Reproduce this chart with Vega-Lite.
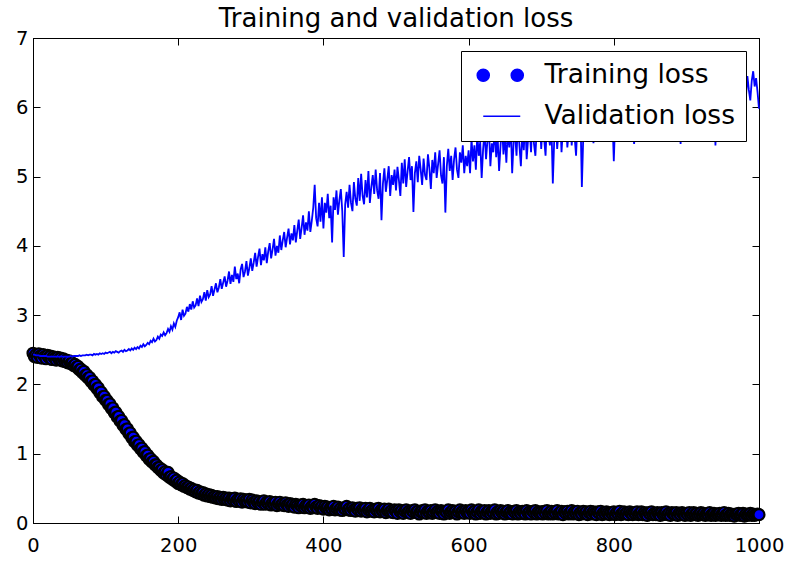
{
  "$schema": "https://vega.github.io/schema/vega-lite/v6.json",
  "width": 726,
  "height": 485,
  "autosize": {"type": "none"},
  "padding": {"left": 33, "top": 38, "right": 37, "bottom": 45},
  "background": "white",
  "title": {"text": "Training and validation loss", "fontSize": 26, "font": "DejaVu Sans", "fontWeight": "normal", "color": "#000000", "offset": -4, "anchor": "middle"},
  "config": {
    "view": {"stroke": "#000000", "strokeWidth": 1},
    "font": "DejaVu Sans",
    "axis": {"grid": false, "domainColor": "#000000", "domainWidth": 1, "tickColor": "#000000", "tickWidth": 1, "tickSize": -7, "labelFont": "DejaVu Sans", "labelFontSize": 19.5, "labelColor": "#000000", "labelFlush": false, "title": null}
  },
  "datasets": {
    "history": [
{"epoch":0,"training":2.45,"validation":2.43},{"epoch":2,"training":2.40,"validation":2.43},{"epoch":4,"training":2.43,"validation":2.42},{"epoch":6,"training":2.39,"validation":2.42},{"epoch":8,"training":2.44,"validation":2.42},
{"epoch":10,"training":2.41,"validation":2.41},{"epoch":12,"training":2.38,"validation":2.41},{"epoch":14,"training":2.43,"validation":2.41},{"epoch":16,"training":2.40,"validation":2.41},{"epoch":18,"training":2.37,"validation":2.41},
{"epoch":20,"training":2.42,"validation":2.40},{"epoch":22,"training":2.39,"validation":2.40},{"epoch":24,"training":2.41,"validation":2.40},{"epoch":26,"training":2.36,"validation":2.40},{"epoch":28,"training":2.40,"validation":2.40},
{"epoch":30,"training":2.38,"validation":2.40},{"epoch":32,"training":2.35,"validation":2.40},{"epoch":34,"training":2.39,"validation":2.40},{"epoch":36,"training":2.36,"validation":2.40},{"epoch":38,"training":2.38,"validation":2.40},
{"epoch":40,"training":2.34,"validation":2.40},{"epoch":42,"training":2.37,"validation":2.40},{"epoch":44,"training":2.33,"validation":2.40},{"epoch":46,"training":2.35,"validation":2.40},{"epoch":48,"training":2.31,"validation":2.40},
{"epoch":50,"training":2.34,"validation":2.40},{"epoch":52,"training":2.30,"validation":2.41},{"epoch":54,"training":2.31,"validation":2.40},{"epoch":56,"training":2.27,"validation":2.41},{"epoch":58,"training":2.29,"validation":2.41},
{"epoch":60,"training":2.25,"validation":2.41},{"epoch":62,"training":2.26,"validation":2.41},{"epoch":64,"training":2.21,"validation":2.42},{"epoch":66,"training":2.22,"validation":2.41},{"epoch":68,"training":2.17,"validation":2.42},
{"epoch":70,"training":2.19,"validation":2.42},{"epoch":72,"training":2.13,"validation":2.42},{"epoch":74,"training":2.14,"validation":2.43},{"epoch":76,"training":2.09,"validation":2.42},{"epoch":78,"training":2.10,"validation":2.43},
{"epoch":80,"training":2.04,"validation":2.43},{"epoch":82,"training":2.05,"validation":2.42},{"epoch":84,"training":1.99,"validation":2.44},{"epoch":86,"training":2.00,"validation":2.43},{"epoch":88,"training":1.94,"validation":2.44},
{"epoch":90,"training":1.95,"validation":2.43},{"epoch":92,"training":1.88,"validation":2.45},{"epoch":94,"training":1.89,"validation":2.44},{"epoch":96,"training":1.82,"validation":2.45},{"epoch":98,"training":1.83,"validation":2.44},
{"epoch":100,"training":1.77,"validation":2.46},{"epoch":102,"training":1.77,"validation":2.45},{"epoch":104,"training":1.71,"validation":2.46},{"epoch":106,"training":1.72,"validation":2.47},{"epoch":108,"training":1.65,"validation":2.45},
{"epoch":110,"training":1.66,"validation":2.47},{"epoch":112,"training":1.59,"validation":2.46},{"epoch":114,"training":1.60,"validation":2.48},{"epoch":116,"training":1.53,"validation":2.47},{"epoch":118,"training":1.54,"validation":2.46},
{"epoch":120,"training":1.47,"validation":2.48},{"epoch":122,"training":1.48,"validation":2.49},{"epoch":124,"training":1.41,"validation":2.47},{"epoch":126,"training":1.42,"validation":2.50},{"epoch":128,"training":1.35,"validation":2.48},
{"epoch":130,"training":1.36,"validation":2.49},{"epoch":132,"training":1.29,"validation":2.51},{"epoch":134,"training":1.30,"validation":2.49},{"epoch":136,"training":1.23,"validation":2.52},{"epoch":138,"training":1.24,"validation":2.50},
{"epoch":140,"training":1.17,"validation":2.53},{"epoch":142,"training":1.18,"validation":2.51},{"epoch":144,"training":1.12,"validation":2.54},{"epoch":146,"training":1.13,"validation":2.52},{"epoch":148,"training":1.07,"validation":2.56},
{"epoch":150,"training":1.08,"validation":2.54},{"epoch":152,"training":1.02,"validation":2.58},{"epoch":154,"training":1.03,"validation":2.55},{"epoch":156,"training":0.97,"validation":2.57},{"epoch":158,"training":0.98,"validation":2.60},
{"epoch":160,"training":0.92,"validation":2.58},{"epoch":162,"training":0.93,"validation":2.63},{"epoch":164,"training":0.88,"validation":2.61},{"epoch":166,"training":0.89,"validation":2.66},{"epoch":168,"training":0.84,"validation":2.62},
{"epoch":170,"training":0.84,"validation":2.64},{"epoch":172,"training":0.80,"validation":2.69},{"epoch":174,"training":0.80,"validation":2.66},{"epoch":176,"training":0.76,"validation":2.72},{"epoch":178,"training":0.77,"validation":2.70},
{"epoch":180,"training":0.72,"validation":2.75},{"epoch":182,"training":0.74,"validation":2.71},{"epoch":184,"training":0.69,"validation":2.74},{"epoch":186,"training":0.73,"validation":2.80},{"epoch":188,"training":0.66,"validation":2.76},
{"epoch":190,"training":0.67,"validation":2.84},{"epoch":192,"training":0.63,"validation":2.79},{"epoch":194,"training":0.65,"validation":2.88},{"epoch":196,"training":0.60,"validation":2.83},{"epoch":198,"training":0.62,"validation":2.92},
{"epoch":200,"training":0.57,"validation":2.97},{"epoch":202,"training":0.59,"validation":3.04},{"epoch":204,"training":0.55,"validation":2.93},{"epoch":206,"training":0.57,"validation":3.08},{"epoch":208,"training":0.53,"validation":2.99},
{"epoch":210,"training":0.54,"validation":3.02},{"epoch":212,"training":0.51,"validation":3.12},{"epoch":214,"training":0.52,"validation":3.05},{"epoch":216,"training":0.49,"validation":3.16},{"epoch":218,"training":0.50,"validation":3.08},
{"epoch":220,"training":0.47,"validation":3.20},{"epoch":222,"training":0.48,"validation":3.11},{"epoch":224,"training":0.45,"validation":3.14},{"epoch":226,"training":0.47,"validation":3.24},{"epoch":228,"training":0.43,"validation":3.13},
{"epoch":230,"training":0.45,"validation":3.28},{"epoch":232,"training":0.42,"validation":3.19},{"epoch":234,"training":0.44,"validation":3.23},{"epoch":236,"training":0.40,"validation":3.33},{"epoch":238,"training":0.42,"validation":3.21},
{"epoch":240,"training":0.39,"validation":3.36},{"epoch":242,"training":0.41,"validation":3.26},{"epoch":244,"training":0.38,"validation":3.30},{"epoch":246,"training":0.40,"validation":3.42},{"epoch":248,"training":0.37,"validation":3.28},
{"epoch":250,"training":0.38,"validation":3.37},{"epoch":252,"training":0.36,"validation":3.46},{"epoch":254,"training":0.38,"validation":3.33},{"epoch":256,"training":0.35,"validation":3.40},{"epoch":258,"training":0.37,"validation":3.52},
{"epoch":260,"training":0.34,"validation":3.38},{"epoch":262,"training":0.37,"validation":3.47},{"epoch":264,"training":0.34,"validation":3.56},{"epoch":266,"training":0.36,"validation":3.41},{"epoch":268,"training":0.33,"validation":3.50},
{"epoch":270,"training":0.36,"validation":3.63},{"epoch":272,"training":0.32,"validation":3.45},{"epoch":274,"training":0.35,"validation":3.58},{"epoch":276,"training":0.33,"validation":3.48},{"epoch":278,"training":0.36,"validation":3.70},
{"epoch":280,"training":0.31,"validation":3.52},{"epoch":282,"training":0.34,"validation":3.60},{"epoch":284,"training":0.32,"validation":3.46},{"epoch":286,"training":0.35,"validation":3.66},{"epoch":288,"training":0.30,"validation":3.74},
{"epoch":290,"training":0.34,"validation":3.55},{"epoch":292,"training":0.31,"validation":3.63},{"epoch":294,"training":0.33,"validation":3.78},{"epoch":296,"training":0.30,"validation":3.57},{"epoch":298,"training":0.34,"validation":3.68},
{"epoch":300,"training":0.29,"validation":3.82},{"epoch":302,"training":0.33,"validation":3.64},{"epoch":304,"training":0.30,"validation":3.76},{"epoch":306,"training":0.28,"validation":3.90},{"epoch":308,"training":0.32,"validation":3.70},
{"epoch":310,"training":0.29,"validation":3.84},{"epoch":312,"training":0.31,"validation":3.96},{"epoch":314,"training":0.27,"validation":3.72},{"epoch":316,"training":0.30,"validation":3.88},{"epoch":318,"training":0.32,"validation":3.79},
{"epoch":320,"training":0.27,"validation":3.98},{"epoch":322,"training":0.30,"validation":3.75},{"epoch":324,"training":0.28,"validation":3.92},{"epoch":326,"training":0.31,"validation":4.04},{"epoch":328,"training":0.26,"validation":3.82},
{"epoch":330,"training":0.29,"validation":3.95},{"epoch":332,"training":0.27,"validation":4.10},{"epoch":334,"training":0.30,"validation":3.86},{"epoch":336,"training":0.25,"validation":4.00},{"epoch":338,"training":0.28,"validation":3.90},
{"epoch":340,"training":0.30,"validation":4.15},{"epoch":342,"training":0.26,"validation":3.94},{"epoch":344,"training":0.28,"validation":4.08},{"epoch":346,"training":0.25,"validation":4.20},{"epoch":348,"training":0.29,"validation":3.98},
{"epoch":350,"training":0.26,"validation":4.12},{"epoch":352,"training":0.24,"validation":4.25},{"epoch":354,"training":0.28,"validation":4.02},{"epoch":356,"training":0.25,"validation":4.18},{"epoch":358,"training":0.27,"validation":4.08},
{"epoch":360,"training":0.23,"validation":4.30},{"epoch":362,"training":0.27,"validation":4.05},{"epoch":364,"training":0.25,"validation":4.22},{"epoch":366,"training":0.22,"validation":4.38},{"epoch":368,"training":0.26,"validation":4.10},
{"epoch":370,"training":0.24,"validation":4.26},{"epoch":372,"training":0.27,"validation":4.44},{"epoch":374,"training":0.22,"validation":4.16},{"epoch":376,"training":0.25,"validation":4.34},{"epoch":378,"training":0.23,"validation":4.22},
{"epoch":380,"training":0.26,"validation":4.50},{"epoch":382,"training":0.21,"validation":4.20},{"epoch":384,"training":0.24,"validation":4.36},{"epoch":386,"training":0.22,"validation":4.55},{"epoch":388,"training":0.27,"validation":4.88},
{"epoch":390,"training":0.23,"validation":4.40},{"epoch":392,"training":0.21,"validation":4.28},{"epoch":394,"training":0.25,"validation":4.62},{"epoch":396,"training":0.22,"validation":4.35},{"epoch":398,"training":0.24,"validation":4.70},
{"epoch":400,"training":0.20,"validation":4.25},{"epoch":402,"training":0.24,"validation":4.62},{"epoch":404,"training":0.21,"validation":4.48},{"epoch":406,"training":0.23,"validation":4.75},{"epoch":408,"training":0.19,"validation":4.40},
{"epoch":410,"training":0.22,"validation":4.58},{"epoch":412,"training":0.20,"validation":4.05},{"epoch":414,"training":0.24,"validation":4.70},{"epoch":416,"training":0.19,"validation":4.52},{"epoch":418,"training":0.21,"validation":4.80},
{"epoch":420,"training":0.23,"validation":4.45},{"epoch":422,"training":0.19,"validation":4.66},{"epoch":424,"training":0.21,"validation":4.82},{"epoch":426,"training":0.18,"validation":4.50},{"epoch":428,"training":0.22,"validation":3.84},
{"epoch":430,"training":0.20,"validation":4.60},{"epoch":432,"training":0.24,"validation":4.78},{"epoch":434,"training":0.19,"validation":4.55},{"epoch":436,"training":0.21,"validation":4.88},{"epoch":438,"training":0.18,"validation":4.62},
{"epoch":440,"training":0.22,"validation":4.50},{"epoch":442,"training":0.19,"validation":4.92},{"epoch":444,"training":0.17,"validation":4.68},{"epoch":446,"training":0.21,"validation":4.58},{"epoch":448,"training":0.19,"validation":4.98},
{"epoch":450,"training":0.22,"validation":4.65},{"epoch":452,"training":0.17,"validation":5.04},{"epoch":454,"training":0.20,"validation":4.72},{"epoch":456,"training":0.18,"validation":4.60},{"epoch":458,"training":0.21,"validation":4.95},
{"epoch":460,"training":0.16,"validation":4.70},{"epoch":462,"training":0.19,"validation":5.08},{"epoch":464,"training":0.21,"validation":4.62},{"epoch":466,"training":0.17,"validation":4.85},{"epoch":468,"training":0.19,"validation":5.02},
{"epoch":470,"training":0.16,"validation":4.75},{"epoch":472,"training":0.20,"validation":5.10},{"epoch":474,"training":0.18,"validation":4.80},{"epoch":476,"training":0.21,"validation":4.68},{"epoch":478,"training":0.16,"validation":5.05},
{"epoch":480,"training":0.19,"validation":4.37},{"epoch":482,"training":0.17,"validation":4.90},{"epoch":484,"training":0.20,"validation":5.12},{"epoch":486,"training":0.15,"validation":4.78},{"epoch":488,"training":0.18,"validation":4.96},
{"epoch":490,"training":0.20,"validation":5.15},{"epoch":492,"training":0.16,"validation":4.72},{"epoch":494,"training":0.18,"validation":5.02},{"epoch":496,"training":0.15,"validation":4.88},{"epoch":498,"training":0.19,"validation":5.10},
{"epoch":500,"training":0.17,"validation":4.80},{"epoch":502,"training":0.14,"validation":5.14},{"epoch":504,"training":0.19,"validation":4.95},{"epoch":506,"training":0.16,"validation":4.72},{"epoch":508,"training":0.18,"validation":5.20},
{"epoch":510,"training":0.14,"validation":4.90},{"epoch":512,"training":0.17,"validation":5.25},{"epoch":514,"training":0.19,"validation":4.85},{"epoch":516,"training":0.15,"validation":5.08},{"epoch":518,"training":0.17,"validation":5.28},
{"epoch":520,"training":0.14,"validation":4.95},{"epoch":522,"training":0.18,"validation":5.15},{"epoch":524,"training":0.16,"validation":4.49},{"epoch":526,"training":0.19,"validation":5.05},{"epoch":528,"training":0.15,"validation":5.22},
{"epoch":530,"training":0.17,"validation":4.92},{"epoch":532,"training":0.13,"validation":5.30},{"epoch":534,"training":0.16,"validation":5.10},{"epoch":536,"training":0.18,"validation":4.88},{"epoch":538,"training":0.15,"validation":5.26},
{"epoch":540,"training":0.19,"validation":5.02},{"epoch":542,"training":0.14,"validation":4.95},{"epoch":544,"training":0.17,"validation":5.32},{"epoch":546,"training":0.15,"validation":5.12},{"epoch":548,"training":0.18,"validation":4.82},
{"epoch":550,"training":0.14,"validation":5.24},{"epoch":552,"training":0.16,"validation":5.05},{"epoch":554,"training":0.19,"validation":5.35},{"epoch":556,"training":0.15,"validation":4.98},{"epoch":558,"training":0.17,"validation":5.18},
{"epoch":560,"training":0.14,"validation":5.38},{"epoch":562,"training":0.18,"validation":5.02},{"epoch":564,"training":0.16,"validation":4.90},{"epoch":566,"training":0.13,"validation":5.28},{"epoch":568,"training":0.17,"validation":4.48},
{"epoch":570,"training":0.15,"validation":5.15},{"epoch":572,"training":0.19,"validation":5.40},{"epoch":574,"training":0.14,"validation":5.08},{"epoch":576,"training":0.16,"validation":5.30},{"epoch":578,"training":0.18,"validation":4.95},
{"epoch":580,"training":0.15,"validation":5.25},{"epoch":582,"training":0.17,"validation":5.42},{"epoch":584,"training":0.13,"validation":5.10},{"epoch":586,"training":0.16,"validation":4.98},{"epoch":588,"training":0.19,"validation":5.35},
{"epoch":590,"training":0.15,"validation":5.20},{"epoch":592,"training":0.17,"validation":5.45},{"epoch":594,"training":0.14,"validation":5.05},{"epoch":596,"training":0.18,"validation":5.30},{"epoch":598,"training":0.15,"validation":5.15},
{"epoch":600,"training":0.17,"validation":5.38},{"epoch":602,"training":0.14,"validation":5.05},{"epoch":604,"training":0.19,"validation":5.55},{"epoch":606,"training":0.15,"validation":5.22},{"epoch":608,"training":0.17,"validation":5.45},
{"epoch":610,"training":0.13,"validation":5.10},{"epoch":612,"training":0.16,"validation":5.62},{"epoch":614,"training":0.19,"validation":5.30},{"epoch":616,"training":0.14,"validation":5.50},{"epoch":618,"training":0.17,"validation":4.98},
{"epoch":620,"training":0.15,"validation":5.40},{"epoch":622,"training":0.18,"validation":5.65},{"epoch":624,"training":0.13,"validation":5.25},{"epoch":626,"training":0.16,"validation":5.52},{"epoch":628,"training":0.18,"validation":5.70},
{"epoch":630,"training":0.14,"validation":5.15},{"epoch":632,"training":0.17,"validation":5.48},{"epoch":634,"training":0.15,"validation":5.35},{"epoch":636,"training":0.19,"validation":5.72},{"epoch":638,"training":0.13,"validation":5.28},
{"epoch":640,"training":0.16,"validation":5.58},{"epoch":642,"training":0.14,"validation":5.08},{"epoch":644,"training":0.18,"validation":5.45},{"epoch":646,"training":0.15,"validation":5.75},{"epoch":648,"training":0.17,"validation":5.32},
{"epoch":650,"training":0.13,"validation":5.60},{"epoch":652,"training":0.16,"validation":5.20},{"epoch":654,"training":0.18,"validation":5.68},{"epoch":656,"training":0.14,"validation":5.42},{"epoch":658,"training":0.16,"validation":5.78},
{"epoch":660,"training":0.13,"validation":5.05},{"epoch":662,"training":0.17,"validation":5.50},{"epoch":664,"training":0.15,"validation":5.62},{"epoch":666,"training":0.18,"validation":5.30},{"epoch":668,"training":0.13,"validation":5.80},
{"epoch":670,"training":0.16,"validation":5.45},{"epoch":672,"training":0.14,"validation":5.15},{"epoch":674,"training":0.17,"validation":5.65},{"epoch":676,"training":0.15,"validation":5.38},{"epoch":678,"training":0.13,"validation":5.82},
{"epoch":680,"training":0.18,"validation":5.25},{"epoch":682,"training":0.14,"validation":5.55},{"epoch":684,"training":0.16,"validation":5.70},{"epoch":686,"training":0.13,"validation":5.35},{"epoch":688,"training":0.17,"validation":5.85},
{"epoch":690,"training":0.15,"validation":5.48},{"epoch":692,"training":0.18,"validation":5.30},{"epoch":694,"training":0.13,"validation":5.72},{"epoch":696,"training":0.16,"validation":5.58},{"epoch":698,"training":0.14,"validation":5.88},
{"epoch":700,"training":0.16,"validation":5.40},{"epoch":702,"training":0.13,"validation":5.75},{"epoch":704,"training":0.17,"validation":5.55},{"epoch":706,"training":0.14,"validation":5.30},{"epoch":708,"training":0.18,"validation":5.82},
{"epoch":710,"training":0.13,"validation":5.62},{"epoch":712,"training":0.15,"validation":5.45},{"epoch":714,"training":0.17,"validation":5.78},{"epoch":716,"training":0.13,"validation":4.90},{"epoch":718,"training":0.16,"validation":5.55},
{"epoch":720,"training":0.14,"validation":5.85},{"epoch":722,"training":0.18,"validation":5.40},{"epoch":724,"training":0.13,"validation":5.68},{"epoch":726,"training":0.15,"validation":5.90},{"epoch":728,"training":0.17,"validation":5.35},
{"epoch":730,"training":0.12,"validation":5.72},{"epoch":732,"training":0.16,"validation":5.50},{"epoch":734,"training":0.14,"validation":5.88},{"epoch":736,"training":0.17,"validation":5.42},{"epoch":738,"training":0.13,"validation":5.65},
{"epoch":740,"training":0.15,"validation":5.92},{"epoch":742,"training":0.18,"validation":5.45},{"epoch":744,"training":0.13,"validation":5.75},{"epoch":746,"training":0.16,"validation":5.58},{"epoch":748,"training":0.14,"validation":5.30},
{"epoch":750,"training":0.17,"validation":5.80},{"epoch":752,"training":0.12,"validation":5.62},{"epoch":754,"training":0.15,"validation":5.95},{"epoch":756,"training":0.13,"validation":4.85},{"epoch":758,"training":0.17,"validation":5.60},
{"epoch":760,"training":0.14,"validation":5.88},{"epoch":762,"training":0.16,"validation":5.52},{"epoch":764,"training":0.12,"validation":5.78},{"epoch":766,"training":0.15,"validation":5.95},{"epoch":768,"training":0.17,"validation":5.60},
{"epoch":770,"training":0.13,"validation":5.85},{"epoch":772,"training":0.16,"validation":5.48},{"epoch":774,"training":0.14,"validation":5.92},{"epoch":776,"training":0.12,"validation":5.70},{"epoch":778,"training":0.16,"validation":5.98},
{"epoch":780,"training":0.14,"validation":5.58},{"epoch":782,"training":0.17,"validation":5.82},{"epoch":784,"training":0.12,"validation":5.65},{"epoch":786,"training":0.15,"validation":6.00},{"epoch":788,"training":0.13,"validation":5.55},
{"epoch":790,"training":0.16,"validation":5.88},{"epoch":792,"training":0.14,"validation":5.72},{"epoch":794,"training":0.12,"validation":5.95},{"epoch":796,"training":0.15,"validation":5.62},{"epoch":798,"training":0.13,"validation":5.90},
{"epoch":800,"training":0.16,"validation":5.22},{"epoch":802,"training":0.12,"validation":5.85},{"epoch":804,"training":0.15,"validation":5.70},{"epoch":806,"training":0.13,"validation":5.98},{"epoch":808,"training":0.17,"validation":5.78},
{"epoch":810,"training":0.12,"validation":6.02},{"epoch":812,"training":0.14,"validation":5.82},{"epoch":814,"training":0.16,"validation":5.66},{"epoch":816,"training":0.13,"validation":5.95},{"epoch":818,"training":0.15,"validation":5.75},
{"epoch":820,"training":0.12,"validation":6.05},{"epoch":822,"training":0.16,"validation":5.80},{"epoch":824,"training":0.14,"validation":5.92},{"epoch":826,"training":0.12,"validation":5.68},{"epoch":828,"training":0.15,"validation":5.47},
{"epoch":830,"training":0.13,"validation":5.90},{"epoch":832,"training":0.16,"validation":6.08},{"epoch":834,"training":0.12,"validation":5.75},{"epoch":836,"training":0.14,"validation":5.95},{"epoch":838,"training":0.16,"validation":5.85},
{"epoch":840,"training":0.12,"validation":6.10},{"epoch":842,"training":0.15,"validation":5.78},{"epoch":844,"training":0.13,"validation":5.98},{"epoch":846,"training":0.11,"validation":5.70},{"epoch":848,"training":0.15,"validation":6.05},
{"epoch":850,"training":0.13,"validation":5.88},{"epoch":852,"training":0.16,"validation":6.12},{"epoch":854,"training":0.12,"validation":5.80},{"epoch":856,"training":0.14,"validation":5.95},{"epoch":858,"training":0.12,"validation":5.72},
{"epoch":860,"training":0.15,"validation":6.08},{"epoch":862,"training":0.13,"validation":5.90},{"epoch":864,"training":0.11,"validation":6.15},{"epoch":866,"training":0.15,"validation":5.82},{"epoch":868,"training":0.12,"validation":5.98},
{"epoch":870,"training":0.14,"validation":5.75},{"epoch":872,"training":0.16,"validation":6.10},{"epoch":874,"training":0.12,"validation":5.88},{"epoch":876,"training":0.14,"validation":6.02},{"epoch":878,"training":0.11,"validation":5.80},
{"epoch":880,"training":0.15,"validation":6.15},{"epoch":882,"training":0.13,"validation":5.92},{"epoch":884,"training":0.12,"validation":5.85},{"epoch":886,"training":0.15,"validation":6.05},{"epoch":888,"training":0.11,"validation":5.78},
{"epoch":890,"training":0.14,"validation":6.12},{"epoch":892,"training":0.12,"validation":5.47},{"epoch":894,"training":0.15,"validation":5.95},{"epoch":896,"training":0.13,"validation":6.08},{"epoch":898,"training":0.11,"validation":5.88},
{"epoch":900,"training":0.14,"validation":6.05},{"epoch":902,"training":0.12,"validation":5.85},{"epoch":904,"training":0.15,"validation":6.18},{"epoch":906,"training":0.11,"validation":5.95},{"epoch":908,"training":0.13,"validation":6.10},
{"epoch":910,"training":0.15,"validation":5.82},{"epoch":912,"training":0.12,"validation":6.20},{"epoch":914,"training":0.14,"validation":5.98},{"epoch":916,"training":0.11,"validation":6.12},{"epoch":918,"training":0.13,"validation":5.88},
{"epoch":920,"training":0.15,"validation":6.22},{"epoch":922,"training":0.12,"validation":5.90},{"epoch":924,"training":0.14,"validation":6.08},{"epoch":926,"training":0.11,"validation":6.25},{"epoch":928,"training":0.13,"validation":5.95},
{"epoch":930,"training":0.12,"validation":6.15},{"epoch":932,"training":0.15,"validation":5.85},{"epoch":934,"training":0.11,"validation":6.28},{"epoch":936,"training":0.13,"validation":6.02},{"epoch":938,"training":0.14,"validation":6.18},
{"epoch":940,"training":0.11,"validation":5.45},{"epoch":942,"training":0.13,"validation":6.12},{"epoch":944,"training":0.12,"validation":6.30},{"epoch":946,"training":0.14,"validation":5.98},{"epoch":948,"training":0.11,"validation":6.20},
{"epoch":950,"training":0.13,"validation":6.05},{"epoch":952,"training":0.15,"validation":6.32},{"epoch":954,"training":0.11,"validation":5.95},{"epoch":956,"training":0.12,"validation":6.22},{"epoch":958,"training":0.14,"validation":6.10},
{"epoch":960,"training":0.11,"validation":6.35},{"epoch":962,"training":0.13,"validation":6.02},{"epoch":964,"training":0.12,"validation":6.25},{"epoch":966,"training":0.10,"validation":6.15},{"epoch":968,"training":0.13,"validation":6.38},
{"epoch":970,"training":0.12,"validation":6.05},{"epoch":972,"training":0.14,"validation":6.28},{"epoch":974,"training":0.11,"validation":6.12},{"epoch":976,"training":0.12,"validation":6.40},{"epoch":978,"training":0.14,"validation":6.20},
{"epoch":980,"training":0.10,"validation":6.32},{"epoch":982,"training":0.13,"validation":6.15},{"epoch":984,"training":0.11,"validation":6.45},{"epoch":986,"training":0.12,"validation":6.25},{"epoch":988,"training":0.14,"validation":6.10},
{"epoch":990,"training":0.11,"validation":6.38},{"epoch":992,"training":0.13,"validation":6.52},{"epoch":994,"training":0.11,"validation":6.30},{"epoch":996,"training":0.12,"validation":6.42},{"epoch":998,"training":0.13,"validation":6.22},
{"epoch":1000,"training":0.12,"validation":5.98}
    ],
    "series": [{"series": "Training loss"}, {"series": "Validation loss"}]
  },
  "layer": [
    {
      "data": {"name": "history"},
      "mark": {"type": "circle", "fill": "#0000ff", "stroke": "#000000", "strokeWidth": 2.2, "size": 120, "opacity": 1},
      "encoding": {
        "x": {"field": "epoch", "type": "quantitative", "scale": {"domain": [0, 1000], "nice": false}, "axis": {"values": [0, 200, 400, 600, 800, 1000], "format": "d", "labelPadding": 20, "title": null}},
        "y": {"field": "training", "type": "quantitative", "scale": {"domain": [0, 7], "nice": false}, "axis": {"values": [0, 1, 2, 3, 4, 5, 6, 7], "format": "d", "labelPadding": 12, "title": null}}
      }
    },
    {
      "data": {"name": "history"},
      "mark": {"type": "line", "stroke": "#0000ff", "strokeWidth": 1.8},
      "encoding": {
        "x": {"field": "epoch", "type": "quantitative", "axis": {"values": [0, 200, 400, 600, 800, 1000], "labels": false, "title": null}},
        "y": {"field": "validation", "type": "quantitative", "axis": {"values": [0, 1, 2, 3, 4, 5, 6, 7], "labels": false, "title": null}}
      }
    },
    {
      "data": {"name": "series"},
      "mark": {"type": "point", "opacity": 0, "strokeWidth": 1.6},
      "encoding": {
        "shape": {
          "field": "series", "type": "nominal",
          "scale": {"domain": ["Training loss", "Validation loss"], "range": ["M -0.8 0 A 0.6 0.6 0 1 0 0.4 0 A 0.6 0.6 0 1 0 -0.8 0 Z M 2.6 0 A 0.6 0.6 0 1 0 3.8 0 A 0.6 0.6 0 1 0 2.6 0 Z", "M -0.2 0 L 3.5 0"]},
          "legend": {
            "title": null, "orient": "top-right", "offset": 13, "padding": 11,
            "fillColor": "#ffffff", "strokeColor": "#000000",
            "labelFont": "DejaVu Sans", "labelFontSize": 26.5, "labelColor": "#000000", "labelOffset": 46, "labelLimit": 400,
            "rowPadding": 14, "symbolSize": 400, "symbolOpacity": 1, "symbolStrokeWidth": 1.6
          }
        },
        "fill": {
          "field": "series", "type": "nominal",
          "scale": {"domain": ["Training loss", "Validation loss"], "range": ["#0000ff", "transparent"]},
          "legend": {
            "title": null, "orient": "top-right", "offset": 13, "padding": 11,
            "fillColor": "#ffffff", "strokeColor": "#000000",
            "labelFont": "DejaVu Sans", "labelFontSize": 26.5, "labelColor": "#000000", "labelOffset": 46, "labelLimit": 400,
            "rowPadding": 14, "symbolSize": 400, "symbolOpacity": 1, "symbolStrokeWidth": 1.6
          }
        },
        "stroke": {
          "field": "series", "type": "nominal",
          "scale": {"domain": ["Training loss", "Validation loss"], "range": ["#0000ff", "#0000ff"]},
          "legend": {
            "title": null, "orient": "top-right", "offset": 13, "padding": 11,
            "fillColor": "#ffffff", "strokeColor": "#000000",
            "labelFont": "DejaVu Sans", "labelFontSize": 26.5, "labelColor": "#000000", "labelOffset": 46, "labelLimit": 400,
            "rowPadding": 14, "symbolSize": 400, "symbolOpacity": 1, "symbolStrokeWidth": 1.6
          }
        }
      }
    }
  ],
  "resolve": {"axis": {"x": "independent", "y": "independent"}}
}
